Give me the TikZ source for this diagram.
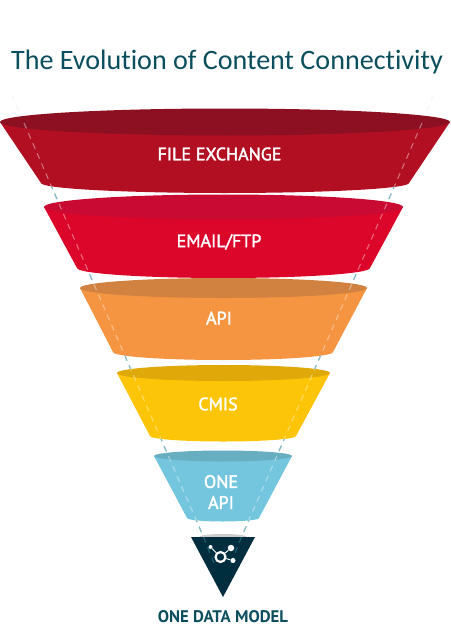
\documentclass[tikz,border=0pt]{standalone}
\usepackage{fontspec}
\setmainfont{PT Sans}
\newfontfamily\lblfont[FakeBold=2]{PT Sans}
\newfontfamily\titlefont[Ligatures=NoCommon]{Carlito}
\usepackage{xcolor}
\definecolor{FileTop}{HTML}{8C0F22}
\definecolor{FileBody}{HTML}{B30F22}
\definecolor{MailTop}{HTML}{C90A32}
\definecolor{MailBody}{HTML}{DC052A}
\definecolor{ApiTop}{HTML}{D18240}
\definecolor{ApiBody}{HTML}{F59542}
\definecolor{CmisTop}{HTML}{DFA90A}
\definecolor{CmisBody}{HTML}{FDC507}
\definecolor{OneTop}{HTML}{66AEC0}
\definecolor{OneBody}{HTML}{74C6DF}
\definecolor{DataDark}{HTML}{002E3F}
\definecolor{TitleTeal}{HTML}{0B4F5E}
\definecolor{DashTeal}{HTML}{2E8C9F}
\begin{document}
\begin{tikzpicture}[x=1pt,y=-1pt,
  lbl/.style={text=white,font=\lblfont\fontsize{18}{21}\selectfont,align=center,inner sep=0pt},
  under/.style={draw=DashTeal,line width=1.1pt,dash pattern=on 6pt off 5pt},
  over/.style={draw=white,opacity=.4,line width=1.1pt,dash pattern=on 6pt off 5pt},
  inner/.style={draw=DashTeal!55!DataDark,line width=1.1pt,dash pattern=on 6pt off 5pt},
  faint/.style={draw=black!5,line width=.7pt,dash pattern=on 6pt off 5pt},
  dot/.style={circle,fill=white,inner sep=0pt},
  spoke/.style={draw=white,line width=1pt}]
\useasboundingbox (0,0) rectangle (450,642);
\coordinate (topl) at (12,95);
\coordinate (topr) at (433,95);
\coordinate (rimt) at (24,123);
\coordinate (rimr) at (422,123);
\coordinate (inl) at (203.5,537);
\coordinate (inr) at (241.5,537);
\coordinate (endl) at (214,563);
\coordinate (endr) at (231,563);
% dashes seen between the bands
\draw[under] (rimt)--(inl); \draw[under] (rimr)--(inr);
\draw[faint] (topl)--(rimt); \draw[faint] (topr)--(rimr);
% bands, top to bottom
\fill[FileBody] (0,122)--(41,183) arc[start angle=180,end angle=360,x radius=184pt,y radius=10pt]--(450,122)--cycle;
\fill[FileTop] (225,122) ellipse[x radius=225pt,y radius=13.5pt];
\fill[MailBody] (44,207)--(77,268) arc[start angle=180,end angle=360,x radius=146.5pt,y radius=10pt]--(403,207)--cycle;
\fill[MailTop] (223.5,207) ellipse[x radius=179.5pt,y radius=12.5pt];
\fill[ApiBody] (80,288)--(113,352) arc[start angle=180,end angle=360,x radius=110pt,y radius=8pt]--(367,288)--cycle;
\fill[ApiTop] (223.5,288) ellipse[x radius=143.5pt,y radius=10pt];
\fill[CmisBody] (117,373)--(150,436) arc[start angle=180,end angle=360,x radius=73pt,y radius=5.5pt]--(330,373)--cycle;
\fill[CmisTop] (223.5,373) ellipse[x radius=106.5pt,y radius=8pt];
\fill[OneBody] (154,456)--(187,518) arc[start angle=180,end angle=360,x radius=36pt,y radius=3.5pt]--(292,456)--cycle;
\fill[OneTop] (223,456) ellipse[x radius=69pt,y radius=5.5pt];
\fill[black!20] (223,537) ellipse[x radius=24pt,y radius=3pt];
\fill[DataDark] (191,537)--(255,537)--(223,597)--cycle;
% same dashes again, lighter over the bands
\draw[over] (rimt)--(inl); \draw[over] (rimr)--(inr);
\draw[inner] (inl)--(endl); \draw[inner] (inr)--(endr);
% icon
\node[circle,draw=white,line width=2.2pt,minimum size=10pt,inner sep=0pt] (hub) at (220.5,557) {};
\node[dot,minimum size=4pt] (dota) at (210.5,547) {};
\node[dot,minimum size=6.5pt] (dotb) at (231,548) {};
\node[dot,minimum size=5pt] (dotc) at (233,560.5) {};
\draw[spoke] (hub)--(dota); \draw[spoke] (hub)--(dotb); \draw[spoke] (hub)--(dotc);
% labels
\node[text=TitleTeal,font=\titlefont\fontsize{28.1}{33}\selectfont,inner sep=0pt] (title) at (227,62) {The Evolution of Content Connectivity};
\node[lbl] (file) at (219.5,154) {FILE EXCHANGE};
\node[lbl] (mail) at (219,242) {EMAIL/FTP};
\node[lbl] (api) at (219,318) {API};
\node[lbl] (cmis) at (218,404) {CMIS};
\node[lbl] (one) at (221,492) {ONE\\API};
\node[text=TitleTeal,font=\fontsize{16.8}{20}\selectfont\bfseries,inner sep=0pt] (model) at (223,617) {ONE DATA MODEL};
\end{tikzpicture}
\end{document}
